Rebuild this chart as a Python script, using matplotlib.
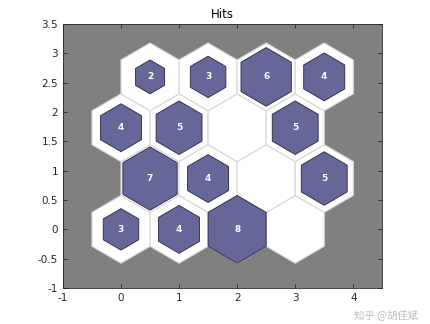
import numpy as np
import matplotlib
matplotlib.use("Agg")
import matplotlib.pyplot as plt
from matplotlib.patches import RegularPolygon

# SOM neuron grid (hextop 4x4) and hit counts
rows = [0, 0, 0, 0, 1, 1, 1, 1, 2, 2, 2, 2, 3, 3, 3, 3]
cols = [0, 1, 2, 3, 0, 1, 2, 3, 0, 1, 2, 3, 0, 1, 2, 3]
hits = [3, 4, 8, 0, 7, 4, 0, 5, 4, 5, 0, 5, 2, 3, 6, 4]

xticks = [-1, 0, 1, 2, 3, 4]
yticks = [-1, -0.5, 0, 0.5, 1, 1.5, 2, 2.5, 3, 3.5]

fig = plt.figure(figsize=(4.31, 3.24), dpi=100)
ax = fig.add_axes([0.146, 0.111, 0.741, 0.815])
ax.set_facecolor((0.5, 0.5, 0.5))

R = 1 / np.sqrt(3)
maxh = max(hits)
for r, c, h in zip(rows, cols, hits):
    x = c + (0.5 if r % 2 == 1 else 0.0)
    y = r * np.sqrt(3) / 2
    ax.add_patch(RegularPolygon((x, y), 6, radius=R, orientation=0,
                                facecolor="white", edgecolor=(0.85, 0.85, 0.85),
                                linewidth=0.8, zorder=2))
    if h > 0:
        s = np.sqrt(h / maxh)
        ax.add_patch(RegularPolygon((x, y), 6, radius=R * s, orientation=0,
                                    facecolor=(0.4, 0.4, 0.6), edgecolor=(0.15, 0.15, 0.25),
                                    linewidth=0.6, zorder=3))
        ax.text(x, y, str(h), color="white", fontsize=6.5, fontweight="bold",
                ha="center", va="center", zorder=4)

ax.set_xlim(-1, 4.5)
ax.set_ylim(-1, 3.5)
ax.set_xticks(xticks)
ax.set_yticks(yticks)
ax.set_xticklabels([f"{v:g}" for v in xticks])
ax.set_yticklabels([f"{v:g}" for v in yticks])
ax.tick_params(direction="in", length=3, labelsize=7.5, top=True, right=True,
               colors=(0.15, 0.15, 0.15), width=0.6)
for sp in ax.spines.values():
    sp.set_linewidth(0.6)
    sp.set_color((0.15, 0.15, 0.15))
ax.set_title("Hits", fontsize=8.5, pad=4)

fig.text(0.97, 0.03, "知乎 @胡佳斌", ha="right", va="center", fontsize=7.5,
         color=(0.75, 0.75, 0.75), family=["Noto Sans CJK SC", "DejaVu Sans"])

fig.savefig("out.png", dpi=100, facecolor="white")
